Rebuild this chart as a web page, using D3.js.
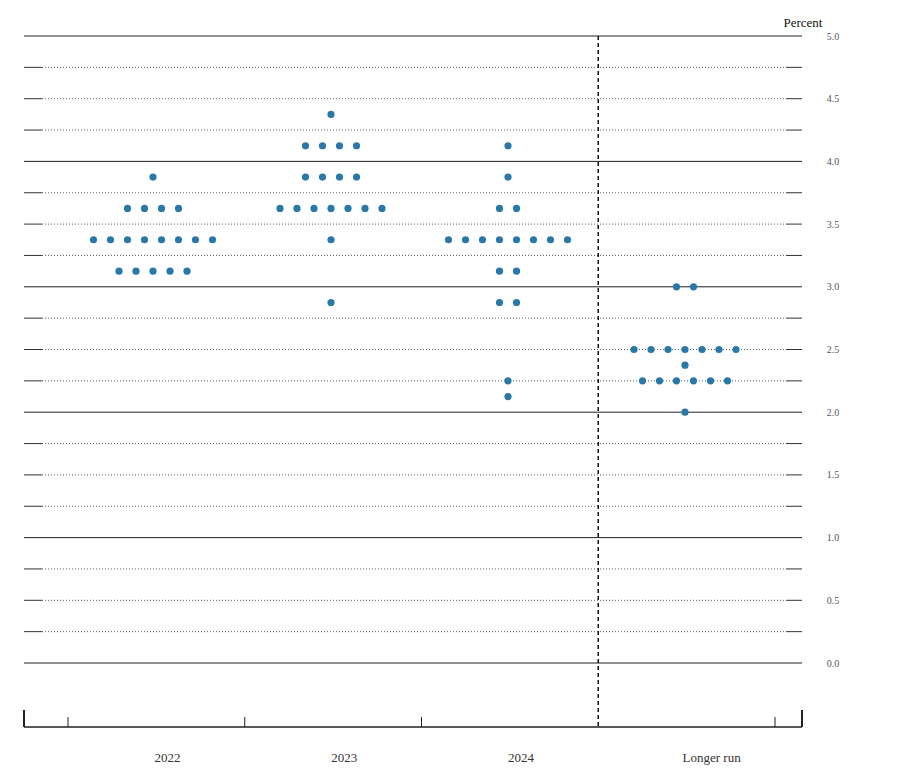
<!DOCTYPE html>
<html>
<head>
<meta charset="utf-8" />
<title>dot plot</title>
<script src="https://cdn.jsdelivr.net/npm/d3@7"></script>
<style>
html, body { margin:0; background:#fff; }
svg { font-family: 'Liberation Serif', 'DejaVu Serif', serif; }
</style>
</head>
<body>
<script>

//=======================================
// data
//=======================================
let categories = ['2022','2023','2024','Longer run'];

// [rate, count] per category
let dots2022 = [[3.875,1],[3.625,4],[3.375,8],[3.125,5]];
let dots2023 = [[4.375,1],[4.125,4],[3.875,4],[3.625,7],[3.375,1],[2.875,1]];
let dots2024 = [[4.125,1],[3.875,1],[3.625,2],[3.375,8],[3.125,2],[2.875,2],[2.25,1],[2.125,1]];
let dotsLR   = [[3.0,2],[2.5,7],[2.375,1],[2.25,6],[2.0,1]];
let yTicks = [0,0.5,1,1.5,2,2.5,3,3.5,4,4.5,5];

let series = [dots2022, dots2023, dots2024, dotsLR];

//=======================================
// chart
//=======================================
let W = 900, H = 778,
    pLeft = 24, pRight = 802, pTop = 36, pBottom = 663, axisY = 727;

let y = d3.scaleLinear().domain([0,5]).range([pBottom, pTop]);
let x = d3.scaleBand().domain(categories).range([68, 775]);
let dx = 17;

let svg = d3.select('body').append('svg')
  .attr('width', W).attr('height', H);

// gridlines
let grid = d3.range(0, 5.01, 0.25);
svg.append('g').attr('class','grid')
  .selectAll('g').data(grid).enter().append('g')
  .call(sel=>{
    sel.filter(d=>d%1===0).append('line')
      .attr('x1',pLeft).attr('x2',pRight)
      .attr('y1',d=>y(d)).attr('y2',d=>y(d))
      .attr('stroke','#222').attr('stroke-width',1);
    let dot = sel.filter(d=>d%1!==0);
    dot.append('line')
      .attr('x1',pLeft+18).attr('x2',pRight-16)
      .attr('y1',d=>y(d)).attr('y2',d=>y(d))
      .attr('stroke','#333').attr('stroke-width',0.8).attr('stroke-dasharray','1 2');
    dot.append('line')
      .attr('x1',pLeft).attr('x2',pLeft+18)
      .attr('y1',d=>y(d)).attr('y2',d=>y(d))
      .attr('stroke','#333').attr('stroke-width',1);
    dot.append('line')
      .attr('x1',pRight-16).attr('x2',pRight)
      .attr('y1',d=>y(d)).attr('y2',d=>y(d))
      .attr('stroke','#333').attr('stroke-width',1);
  });

// right labels
svg.append('g').selectAll('text').data(yTicks).enter().append('text')
  .attr('x',833).attr('y',d=>y(d)+3.5)
  .attr('font-size',10).attr('fill','#555').attr('text-anchor','middle')
  .text(d=>d3.format('.1f')(d));

svg.append('text').attr('x',803).attr('y',27).attr('text-anchor','middle')
  .attr('font-size',13).attr('fill','#111').text('Percent');

// dashed separator
svg.append('line')
  .attr('x1',x('Longer run')).attr('x2',x('Longer run'))
  .attr('y1',pTop).attr('y2',axisY)
  .attr('stroke','#111').attr('stroke-width',1.5).attr('stroke-dasharray','4 3');

// bottom axis
svg.append('line').attr('x1',pLeft).attr('x2',pRight).attr('y1',axisY).attr('y2',axisY)
  .attr('stroke','#222').attr('stroke-width',1.5);
let minorTicks = categories.map(c=>x(c)).concat([x.range()[1]]).filter(v=>v!==x('Longer run'));
svg.append('g').selectAll('line').data(minorTicks).enter().append('line')
  .attr('x1',d=>d).attr('x2',d=>d).attr('y1',axisY-10).attr('y2',axisY)
  .attr('stroke','#222').attr('stroke-width',1);
svg.append('g').selectAll('line').data([pLeft,pRight]).enter().append('line')
  .attr('x1',d=>d).attr('x2',d=>d).attr('y1',axisY-17).attr('y2',axisY)
  .attr('stroke','#222').attr('stroke-width',2);

svg.append('g').selectAll('text').data(categories).enter().append('text')
  .attr('x',d=>x(d)+x.bandwidth()/2+(d==='Longer run'?25:11)).attr('y',762)
  .attr('text-anchor','middle').attr('font-size',13).attr('fill','#333')
  .text(d=>d);

// dots
let centers = [153, 331, 508, 685];
series.forEach((s,i)=>{
  let cx = centers[i];
  let pts = [];
  s.forEach(([v,n])=>{
    for (let k=0;k<n;k++) pts.push({v:v, off:(k-(n-1)/2)*dx});
  });
  svg.append('g').selectAll('circle').data(pts).enter().append('circle')
    .attr('cx',d=>cx+d.off).attr('cy',d=>y(d.v)).attr('r',3.6)
    .attr('fill','#2a78a8');
});

</script>
</body>
</html>
